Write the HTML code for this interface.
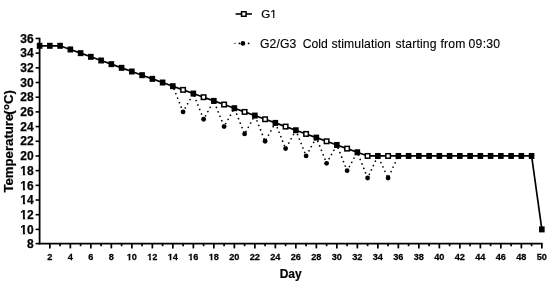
<!DOCTYPE html>
<html><head><meta charset="utf-8"><title>Temperature chart</title>
<style>
html,body{margin:0;padding:0;background:#fff;}
body{width:550px;height:286px;position:relative;overflow:hidden;font-family:"Liberation Sans",sans-serif;}
svg text{font-family:"Liberation Sans",sans-serif;fill:#000;}
.yt{font-size:12px;font-weight:bold;stroke:#000;stroke-width:0.25px;}
.xt{font-size:9.7px;font-weight:bold;stroke:#000;stroke-width:0.25px;}
.ti{font-size:12px;font-weight:bold;stroke:#000;stroke-width:0.2px;}
.ty{font-size:12px;font-weight:bold;stroke:#000;stroke-width:0.2px;}
.lg{font-size:12.2px;stroke:#000;stroke-width:0.12px;}
.lg1{font-size:11.6px;stroke:#000;stroke-width:0.2px;}
</style></head><body>
<svg width="550" height="286" viewBox="0 0 550 286" style="position:absolute;left:0;top:0">
<rect width="550" height="286" fill="#fff"/>
<polyline points="377.85,155.96 388.10,177.99 398.35,155.96" fill="none" stroke="#000" stroke-width="1.7" stroke-linecap="round" stroke-dasharray="0.01 4.802" stroke-dashoffset="-2.5"/>
<polyline points="172.85,86.19 183.10,111.90 193.35,93.54 203.60,119.24 213.85,100.88 224.10,126.58 234.35,108.22 244.60,133.93 254.85,115.57 265.10,141.27 275.35,122.91 285.60,148.62 295.85,130.26 306.10,155.96 316.35,137.60 326.60,163.30 336.85,144.94 347.10,170.65 357.35,152.29 367.60,177.99 377.85,155.96" fill="none" stroke="#000" stroke-width="1.7" stroke-linecap="round" stroke-dasharray="0.01 4.802" stroke-dashoffset="-3.3"/>
<polyline points="39.60,45.80 49.85,45.80 60.10,45.80 70.35,49.47 80.60,53.14 90.85,56.82 101.10,60.49 111.35,64.16 121.60,67.83 131.85,71.50 142.10,75.18 152.35,78.85 162.60,82.52 172.85,86.19 183.10,89.86 193.35,93.54 203.60,97.21 213.85,100.88 224.10,104.55 234.35,108.22 244.60,111.90 254.85,115.57 265.10,119.24 275.35,122.91 285.60,126.58 295.85,130.26 306.10,133.93 316.35,137.60 326.60,141.27 336.85,144.94 347.10,148.62 357.35,152.29 367.60,155.96 377.85,155.96 388.10,155.96 398.35,155.96 408.60,155.96 418.85,155.96 429.10,155.96 439.35,155.96 449.60,155.96 459.85,155.96 470.10,155.96 480.35,155.96 490.60,155.96 500.85,155.96 511.10,155.96 521.35,155.96 531.60,155.96 541.85,229.40" fill="none" stroke="#000" stroke-width="1.7"/>
<line x1="39.6" y1="37.76" x2="39.6" y2="244.29999999999998" stroke="#000" stroke-width="1.8"/>
<line x1="38.7" y1="243.6" x2="542.55" y2="243.6" stroke="#000" stroke-width="1.8"/>
<line x1="35.6" y1="243.60" x2="39.6" y2="243.60" stroke="#000" stroke-width="1.6"/>
<text x="33.7" y="247.80" text-anchor="end" class="yt">8</text>
<line x1="35.6" y1="229.40" x2="39.6" y2="229.40" stroke="#000" stroke-width="1.6"/>
<text x="33.7" y="233.60" text-anchor="end" class="yt">10</text>
<rect x="20.51" y="232.03" width="2.40" height="2.67" fill="#fff"/>
<rect x="25.04" y="232.03" width="2.25" height="2.67" fill="#fff"/>
<line x1="35.6" y1="214.71" x2="39.6" y2="214.71" stroke="#000" stroke-width="1.6"/>
<text x="33.7" y="218.91" text-anchor="end" class="yt">12</text>
<rect x="20.51" y="217.03" width="2.40" height="2.67" fill="#fff"/>
<rect x="25.04" y="217.03" width="2.25" height="2.67" fill="#fff"/>
<line x1="35.6" y1="200.02" x2="39.6" y2="200.02" stroke="#000" stroke-width="1.6"/>
<text x="33.7" y="204.22" text-anchor="end" class="yt">14</text>
<rect x="20.51" y="202.03" width="2.40" height="2.67" fill="#fff"/>
<rect x="25.04" y="202.03" width="2.25" height="2.67" fill="#fff"/>
<line x1="35.6" y1="185.34" x2="39.6" y2="185.34" stroke="#000" stroke-width="1.6"/>
<text x="33.7" y="189.54" text-anchor="end" class="yt">16</text>
<rect x="20.51" y="188.03" width="2.40" height="2.67" fill="#fff"/>
<rect x="25.04" y="188.03" width="2.25" height="2.67" fill="#fff"/>
<line x1="35.6" y1="170.65" x2="39.6" y2="170.65" stroke="#000" stroke-width="1.6"/>
<text x="33.7" y="174.85" text-anchor="end" class="yt">18</text>
<rect x="20.51" y="173.03" width="2.40" height="2.67" fill="#fff"/>
<rect x="25.04" y="173.03" width="2.25" height="2.67" fill="#fff"/>
<line x1="35.6" y1="155.96" x2="39.6" y2="155.96" stroke="#000" stroke-width="1.6"/>
<text x="33.7" y="160.16" text-anchor="end" class="yt">20</text>
<line x1="35.6" y1="141.27" x2="39.6" y2="141.27" stroke="#000" stroke-width="1.6"/>
<text x="33.7" y="145.47" text-anchor="end" class="yt">22</text>
<line x1="35.6" y1="126.58" x2="39.6" y2="126.58" stroke="#000" stroke-width="1.6"/>
<text x="33.7" y="130.78" text-anchor="end" class="yt">24</text>
<line x1="35.6" y1="111.90" x2="39.6" y2="111.90" stroke="#000" stroke-width="1.6"/>
<text x="33.7" y="116.10" text-anchor="end" class="yt">26</text>
<line x1="35.6" y1="97.21" x2="39.6" y2="97.21" stroke="#000" stroke-width="1.6"/>
<text x="33.7" y="101.41" text-anchor="end" class="yt">28</text>
<line x1="35.6" y1="82.52" x2="39.6" y2="82.52" stroke="#000" stroke-width="1.6"/>
<text x="33.7" y="86.72" text-anchor="end" class="yt">30</text>
<line x1="35.6" y1="67.83" x2="39.6" y2="67.83" stroke="#000" stroke-width="1.6"/>
<text x="33.7" y="72.03" text-anchor="end" class="yt">32</text>
<line x1="35.6" y1="53.14" x2="39.6" y2="53.14" stroke="#000" stroke-width="1.6"/>
<text x="33.7" y="57.34" text-anchor="end" class="yt">34</text>
<line x1="35.6" y1="38.46" x2="39.6" y2="38.46" stroke="#000" stroke-width="1.6"/>
<text x="33.7" y="42.66" text-anchor="end" class="yt">36</text>
<line x1="49.85" y1="243.6" x2="49.85" y2="248.4" stroke="#000" stroke-width="1.7"/>
<text transform="translate(49.85 260.4) scale(0.95 1)" text-anchor="middle" class="xt">2</text>
<line x1="60.10" y1="243.6" x2="60.10" y2="246.2" stroke="#000" stroke-width="1.7"/>
<line x1="70.35" y1="243.6" x2="70.35" y2="248.4" stroke="#000" stroke-width="1.7"/>
<text transform="translate(70.35 260.4) scale(0.95 1)" text-anchor="middle" class="xt">4</text>
<line x1="80.60" y1="243.6" x2="80.60" y2="246.2" stroke="#000" stroke-width="1.7"/>
<line x1="90.85" y1="243.6" x2="90.85" y2="248.4" stroke="#000" stroke-width="1.7"/>
<text transform="translate(90.85 260.4) scale(0.95 1)" text-anchor="middle" class="xt">6</text>
<line x1="101.10" y1="243.6" x2="101.10" y2="246.2" stroke="#000" stroke-width="1.7"/>
<line x1="111.35" y1="243.6" x2="111.35" y2="248.4" stroke="#000" stroke-width="1.7"/>
<text transform="translate(111.35 260.4) scale(0.95 1)" text-anchor="middle" class="xt">8</text>
<line x1="121.60" y1="243.6" x2="121.60" y2="246.2" stroke="#000" stroke-width="1.7"/>
<line x1="131.85" y1="243.6" x2="131.85" y2="248.4" stroke="#000" stroke-width="1.7"/>
<text transform="translate(131.85 260.4) scale(0.95 1)" text-anchor="middle" class="xt">10</text>
<rect x="126.71" y="258.66" width="1.93" height="2.44" fill="#fff"/>
<rect x="130.39" y="258.66" width="1.81" height="2.44" fill="#fff"/>
<line x1="142.10" y1="243.6" x2="142.10" y2="246.2" stroke="#000" stroke-width="1.7"/>
<line x1="152.35" y1="243.6" x2="152.35" y2="248.4" stroke="#000" stroke-width="1.7"/>
<text transform="translate(152.35 260.4) scale(0.95 1)" text-anchor="middle" class="xt">12</text>
<rect x="147.21" y="258.66" width="1.93" height="2.44" fill="#fff"/>
<rect x="150.89" y="258.66" width="1.81" height="2.44" fill="#fff"/>
<line x1="162.60" y1="243.6" x2="162.60" y2="246.2" stroke="#000" stroke-width="1.7"/>
<line x1="172.85" y1="243.6" x2="172.85" y2="248.4" stroke="#000" stroke-width="1.7"/>
<text transform="translate(172.85 260.4) scale(0.95 1)" text-anchor="middle" class="xt">14</text>
<rect x="167.71" y="258.66" width="1.93" height="2.44" fill="#fff"/>
<rect x="171.39" y="258.66" width="1.81" height="2.44" fill="#fff"/>
<line x1="183.10" y1="243.6" x2="183.10" y2="246.2" stroke="#000" stroke-width="1.7"/>
<line x1="193.35" y1="243.6" x2="193.35" y2="248.4" stroke="#000" stroke-width="1.7"/>
<text transform="translate(193.35 260.4) scale(0.95 1)" text-anchor="middle" class="xt">16</text>
<rect x="188.21" y="258.66" width="1.93" height="2.44" fill="#fff"/>
<rect x="191.89" y="258.66" width="1.81" height="2.44" fill="#fff"/>
<line x1="203.60" y1="243.6" x2="203.60" y2="246.2" stroke="#000" stroke-width="1.7"/>
<line x1="213.85" y1="243.6" x2="213.85" y2="248.4" stroke="#000" stroke-width="1.7"/>
<text transform="translate(213.85 260.4) scale(0.95 1)" text-anchor="middle" class="xt">18</text>
<rect x="208.71" y="258.66" width="1.93" height="2.44" fill="#fff"/>
<rect x="212.39" y="258.66" width="1.81" height="2.44" fill="#fff"/>
<line x1="224.10" y1="243.6" x2="224.10" y2="246.2" stroke="#000" stroke-width="1.7"/>
<line x1="234.35" y1="243.6" x2="234.35" y2="248.4" stroke="#000" stroke-width="1.7"/>
<text transform="translate(234.35 260.4) scale(0.95 1)" text-anchor="middle" class="xt">20</text>
<line x1="244.60" y1="243.6" x2="244.60" y2="246.2" stroke="#000" stroke-width="1.7"/>
<line x1="254.85" y1="243.6" x2="254.85" y2="248.4" stroke="#000" stroke-width="1.7"/>
<text transform="translate(254.85 260.4) scale(0.95 1)" text-anchor="middle" class="xt">22</text>
<line x1="265.10" y1="243.6" x2="265.10" y2="246.2" stroke="#000" stroke-width="1.7"/>
<line x1="275.35" y1="243.6" x2="275.35" y2="248.4" stroke="#000" stroke-width="1.7"/>
<text transform="translate(275.35 260.4) scale(0.95 1)" text-anchor="middle" class="xt">24</text>
<line x1="285.60" y1="243.6" x2="285.60" y2="246.2" stroke="#000" stroke-width="1.7"/>
<line x1="295.85" y1="243.6" x2="295.85" y2="248.4" stroke="#000" stroke-width="1.7"/>
<text transform="translate(295.85 260.4) scale(0.95 1)" text-anchor="middle" class="xt">26</text>
<line x1="306.10" y1="243.6" x2="306.10" y2="246.2" stroke="#000" stroke-width="1.7"/>
<line x1="316.35" y1="243.6" x2="316.35" y2="248.4" stroke="#000" stroke-width="1.7"/>
<text transform="translate(316.35 260.4) scale(0.95 1)" text-anchor="middle" class="xt">28</text>
<line x1="326.60" y1="243.6" x2="326.60" y2="246.2" stroke="#000" stroke-width="1.7"/>
<line x1="336.85" y1="243.6" x2="336.85" y2="248.4" stroke="#000" stroke-width="1.7"/>
<text transform="translate(336.85 260.4) scale(0.95 1)" text-anchor="middle" class="xt">30</text>
<line x1="347.10" y1="243.6" x2="347.10" y2="246.2" stroke="#000" stroke-width="1.7"/>
<line x1="357.35" y1="243.6" x2="357.35" y2="248.4" stroke="#000" stroke-width="1.7"/>
<text transform="translate(357.35 260.4) scale(0.95 1)" text-anchor="middle" class="xt">32</text>
<line x1="367.60" y1="243.6" x2="367.60" y2="246.2" stroke="#000" stroke-width="1.7"/>
<line x1="377.85" y1="243.6" x2="377.85" y2="248.4" stroke="#000" stroke-width="1.7"/>
<text transform="translate(377.85 260.4) scale(0.95 1)" text-anchor="middle" class="xt">34</text>
<line x1="388.10" y1="243.6" x2="388.10" y2="246.2" stroke="#000" stroke-width="1.7"/>
<line x1="398.35" y1="243.6" x2="398.35" y2="248.4" stroke="#000" stroke-width="1.7"/>
<text transform="translate(398.35 260.4) scale(0.95 1)" text-anchor="middle" class="xt">36</text>
<line x1="408.60" y1="243.6" x2="408.60" y2="246.2" stroke="#000" stroke-width="1.7"/>
<line x1="418.85" y1="243.6" x2="418.85" y2="248.4" stroke="#000" stroke-width="1.7"/>
<text transform="translate(418.85 260.4) scale(0.95 1)" text-anchor="middle" class="xt">38</text>
<line x1="429.10" y1="243.6" x2="429.10" y2="246.2" stroke="#000" stroke-width="1.7"/>
<line x1="439.35" y1="243.6" x2="439.35" y2="248.4" stroke="#000" stroke-width="1.7"/>
<text transform="translate(439.35 260.4) scale(0.95 1)" text-anchor="middle" class="xt">40</text>
<line x1="449.60" y1="243.6" x2="449.60" y2="246.2" stroke="#000" stroke-width="1.7"/>
<line x1="459.85" y1="243.6" x2="459.85" y2="248.4" stroke="#000" stroke-width="1.7"/>
<text transform="translate(459.85 260.4) scale(0.95 1)" text-anchor="middle" class="xt">42</text>
<line x1="470.10" y1="243.6" x2="470.10" y2="246.2" stroke="#000" stroke-width="1.7"/>
<line x1="480.35" y1="243.6" x2="480.35" y2="248.4" stroke="#000" stroke-width="1.7"/>
<text transform="translate(480.35 260.4) scale(0.95 1)" text-anchor="middle" class="xt">44</text>
<line x1="490.60" y1="243.6" x2="490.60" y2="246.2" stroke="#000" stroke-width="1.7"/>
<line x1="500.85" y1="243.6" x2="500.85" y2="248.4" stroke="#000" stroke-width="1.7"/>
<text transform="translate(500.85 260.4) scale(0.95 1)" text-anchor="middle" class="xt">46</text>
<line x1="511.10" y1="243.6" x2="511.10" y2="246.2" stroke="#000" stroke-width="1.7"/>
<line x1="521.35" y1="243.6" x2="521.35" y2="248.4" stroke="#000" stroke-width="1.7"/>
<text transform="translate(521.35 260.4) scale(0.95 1)" text-anchor="middle" class="xt">48</text>
<line x1="531.60" y1="243.6" x2="531.60" y2="246.2" stroke="#000" stroke-width="1.7"/>
<line x1="541.85" y1="243.6" x2="541.85" y2="248.4" stroke="#000" stroke-width="1.7"/>
<text transform="translate(541.85 260.4) scale(0.95 1)" text-anchor="middle" class="xt">50</text>
<rect x="36.80" y="42.80" width="5.6" height="6.0" fill="#000"/>
<rect x="47.05" y="42.80" width="5.6" height="6.0" fill="#000"/>
<rect x="57.30" y="42.80" width="5.6" height="6.0" fill="#000"/>
<rect x="67.55" y="46.47" width="5.6" height="6.0" fill="#000"/>
<rect x="77.80" y="50.14" width="5.6" height="6.0" fill="#000"/>
<rect x="88.05" y="53.82" width="5.6" height="6.0" fill="#000"/>
<rect x="98.30" y="57.49" width="5.6" height="6.0" fill="#000"/>
<rect x="108.55" y="61.16" width="5.6" height="6.0" fill="#000"/>
<rect x="118.80" y="64.83" width="5.6" height="6.0" fill="#000"/>
<rect x="129.05" y="68.50" width="5.6" height="6.0" fill="#000"/>
<rect x="139.30" y="72.18" width="5.6" height="6.0" fill="#000"/>
<rect x="149.55" y="75.85" width="5.6" height="6.0" fill="#000"/>
<rect x="159.80" y="79.52" width="5.6" height="6.0" fill="#000"/>
<rect x="170.05" y="83.19" width="5.6" height="6.0" fill="#000"/>
<rect x="180.85" y="87.61" width="4.5" height="4.5" fill="#fff" stroke="#000" stroke-width="1.5"/>
<circle cx="183.10" cy="111.90" r="2.4" fill="#000"/>
<rect x="190.55" y="90.54" width="5.6" height="6.0" fill="#000"/>
<rect x="201.35" y="94.96" width="4.5" height="4.5" fill="#fff" stroke="#000" stroke-width="1.5"/>
<circle cx="203.60" cy="119.24" r="2.4" fill="#000"/>
<rect x="211.05" y="97.88" width="5.6" height="6.0" fill="#000"/>
<rect x="221.85" y="102.30" width="4.5" height="4.5" fill="#fff" stroke="#000" stroke-width="1.5"/>
<circle cx="224.10" cy="126.58" r="2.4" fill="#000"/>
<rect x="231.55" y="105.22" width="5.6" height="6.0" fill="#000"/>
<rect x="242.35" y="109.65" width="4.5" height="4.5" fill="#fff" stroke="#000" stroke-width="1.5"/>
<circle cx="244.60" cy="133.93" r="2.4" fill="#000"/>
<rect x="252.05" y="112.57" width="5.6" height="6.0" fill="#000"/>
<rect x="262.85" y="116.99" width="4.5" height="4.5" fill="#fff" stroke="#000" stroke-width="1.5"/>
<circle cx="265.10" cy="141.27" r="2.4" fill="#000"/>
<rect x="272.55" y="119.91" width="5.6" height="6.0" fill="#000"/>
<rect x="283.35" y="124.33" width="4.5" height="4.5" fill="#fff" stroke="#000" stroke-width="1.5"/>
<circle cx="285.60" cy="148.62" r="2.4" fill="#000"/>
<rect x="293.05" y="127.26" width="5.6" height="6.0" fill="#000"/>
<rect x="303.85" y="131.68" width="4.5" height="4.5" fill="#fff" stroke="#000" stroke-width="1.5"/>
<circle cx="306.10" cy="155.96" r="2.4" fill="#000"/>
<rect x="313.55" y="134.60" width="5.6" height="6.0" fill="#000"/>
<rect x="324.35" y="139.02" width="4.5" height="4.5" fill="#fff" stroke="#000" stroke-width="1.5"/>
<circle cx="326.60" cy="163.30" r="2.4" fill="#000"/>
<rect x="334.05" y="141.94" width="5.6" height="6.0" fill="#000"/>
<rect x="344.85" y="146.37" width="4.5" height="4.5" fill="#fff" stroke="#000" stroke-width="1.5"/>
<circle cx="347.10" cy="170.65" r="2.4" fill="#000"/>
<rect x="354.55" y="149.29" width="5.6" height="6.0" fill="#000"/>
<rect x="365.35" y="153.71" width="4.5" height="4.5" fill="#fff" stroke="#000" stroke-width="1.5"/>
<circle cx="367.60" cy="177.99" r="2.4" fill="#000"/>
<rect x="375.05" y="152.96" width="5.6" height="6.0" fill="#000"/>
<rect x="385.85" y="153.71" width="4.5" height="4.5" fill="#fff" stroke="#000" stroke-width="1.5"/>
<circle cx="388.10" cy="177.99" r="2.4" fill="#000"/>
<rect x="395.55" y="152.96" width="5.6" height="6.0" fill="#000"/>
<rect x="405.80" y="152.96" width="5.6" height="6.0" fill="#000"/>
<rect x="416.05" y="152.96" width="5.6" height="6.0" fill="#000"/>
<rect x="426.30" y="152.96" width="5.6" height="6.0" fill="#000"/>
<rect x="436.55" y="152.96" width="5.6" height="6.0" fill="#000"/>
<rect x="446.80" y="152.96" width="5.6" height="6.0" fill="#000"/>
<rect x="457.05" y="152.96" width="5.6" height="6.0" fill="#000"/>
<rect x="467.30" y="152.96" width="5.6" height="6.0" fill="#000"/>
<rect x="477.55" y="152.96" width="5.6" height="6.0" fill="#000"/>
<rect x="487.80" y="152.96" width="5.6" height="6.0" fill="#000"/>
<rect x="498.05" y="152.96" width="5.6" height="6.0" fill="#000"/>
<rect x="508.30" y="152.96" width="5.6" height="6.0" fill="#000"/>
<rect x="518.55" y="152.96" width="5.6" height="6.0" fill="#000"/>
<rect x="528.80" y="152.96" width="5.6" height="6.0" fill="#000"/>
<rect x="539.05" y="226.40" width="5.6" height="6.0" fill="#000"/>
<text x="290.7" y="277.6" text-anchor="middle" class="ti">Day</text>
<text transform="translate(13.45 141.4) rotate(-90) scale(1.1 1)" text-anchor="middle" class="ty">Temperature<tspan dx="-0.9">(</tspan><tspan font-size="14.5" dy="1.5" dx="0">°</tspan><tspan dy="-1.5" dx="-0.2">C)</tspan></text>
<line x1="235.6" y1="14.0" x2="251.9" y2="14.0" stroke="#000" stroke-width="1.6"/>
<rect x="241.55" y="11.75" width="4.5" height="4.5" fill="#fff" stroke="#000" stroke-width="1.5"/>
<text x="261.3" y="18.0" class="lg1">G1</text>
<rect x="270.61" y="16.38" width="2.41" height="2.32" fill="#fff"/>
<rect x="274.49" y="16.38" width="2.32" height="2.32" fill="#fff"/>
<circle cx="235.0" cy="43.4" r="0.6" fill="#000"/>
<circle cx="239.4" cy="43.4" r="0.9" fill="#000"/>
<circle cx="248.6" cy="43.4" r="0.9" fill="#000"/>
<circle cx="242.9" cy="43.4" r="2.35" fill="#000"/>
<text y="47.8" class="lg"><tspan x="260.00" letter-spacing="0.100">G2/G3</tspan> <tspan x="302.70" letter-spacing="0.050">Cold</tspan> <tspan x="331.60" letter-spacing="0.100">stimulation</tspan> <tspan x="395.60" letter-spacing="0.140">starting</tspan> <tspan x="440.40" letter-spacing="0.200">from</tspan> <tspan x="468.60" letter-spacing="0.250">09:30</tspan></text>
</svg>
</body></html>
